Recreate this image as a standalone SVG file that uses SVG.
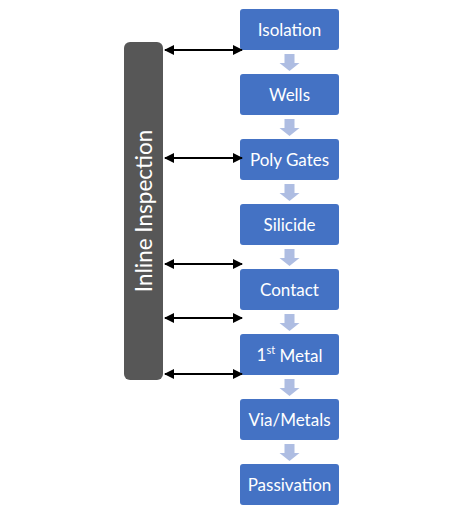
<svg xmlns="http://www.w3.org/2000/svg" width="474" height="520" viewBox="0 0 474 520">
<defs>
<style>
.box{fill:#4472C4;}
.lbl{fill:#fff;font-family:Lato,"Open Sans","Liberation Sans",sans-serif;font-size:17px;text-anchor:middle;dominant-baseline:central;}
.dn{fill:#AEBDE2;}
.conn{stroke:#000;stroke-width:2;fill:none;marker-start:url(#ah);marker-end:url(#ah);}
</style>
<marker id="ah" viewBox="0 0 10 10" refX="9" refY="5" markerWidth="5" markerHeight="5" orient="auto-start-reverse" markerUnits="strokeWidth">
<path d="M0,0 L10,5 L0,10 z" fill="#000"/>
</marker>
<path id="down" class="dn" d="M-5,0 H5 V9 H10 L0,17 L-10,9 H-5 Z"/>
</defs>
<rect width="474" height="520" fill="#fff"/>
<g id="inline-inspection">
<rect x="124" y="42" width="39" height="338" rx="6" fill="#575757"/>
<text x="0" y="0" transform="translate(143.5,211) rotate(-90)" fill="#fff" font-family="Lato,'Open Sans','Liberation Sans',sans-serif" font-size="22.5" text-anchor="middle" dominant-baseline="central">Inline Inspection</text>
</g>
<g id="isolation"><rect class="box" x="240" y="9" width="99" height="41" rx="3"/><text class="lbl" x="289.5" y="29.5">Isolation</text></g>
<g id="wells"><rect class="box" x="240" y="74" width="99" height="41" rx="3"/><text class="lbl" x="289.5" y="94.5">Wells</text></g>
<g id="poly-gates"><rect class="box" x="240" y="139" width="99" height="41" rx="3"/><text class="lbl" x="289.5" y="159.5">Poly Gates</text></g>
<g id="silicide"><rect class="box" x="240" y="204" width="99" height="41" rx="3"/><text class="lbl" x="289.5" y="224.5">Silicide</text></g>
<g id="contact"><rect class="box" x="240" y="269" width="99" height="41" rx="3"/><text class="lbl" x="289.5" y="289.5">Contact</text></g>
<g id="first-metal"><rect class="box" x="240" y="334" width="99" height="41" rx="3"/><text class="lbl" x="289.5" y="354.5">1<tspan font-size="11" dy="-6">st</tspan><tspan dy="6"> Metal</tspan></text></g>
<g id="via-metals"><rect class="box" x="240" y="399" width="99" height="41" rx="3"/><text class="lbl" x="289.5" y="419.5">Via/Metals</text></g>
<g id="passivation"><rect class="box" x="240" y="464" width="99" height="41" rx="3"/><text class="lbl" x="289.5" y="484.5">Passivation</text></g>
<g id="connectors">
<use href="#down" x="289.5" y="54"/>
<use href="#down" x="289.5" y="119"/>
<use href="#down" x="289.5" y="184"/>
<use href="#down" x="289.5" y="249"/>
<use href="#down" x="289.5" y="314"/>
<use href="#down" x="289.5" y="379"/>
<use href="#down" x="289.5" y="444"/>
<line class="conn" x1="165" y1="50" x2="242" y2="50"/>
<line class="conn" x1="165" y1="158" x2="242" y2="158"/>
<line class="conn" x1="165" y1="264" x2="242" y2="264"/>
<line class="conn" x1="165" y1="318" x2="242" y2="318"/>
<line class="conn" x1="165" y1="374" x2="242" y2="374"/>
</g>
</svg>
